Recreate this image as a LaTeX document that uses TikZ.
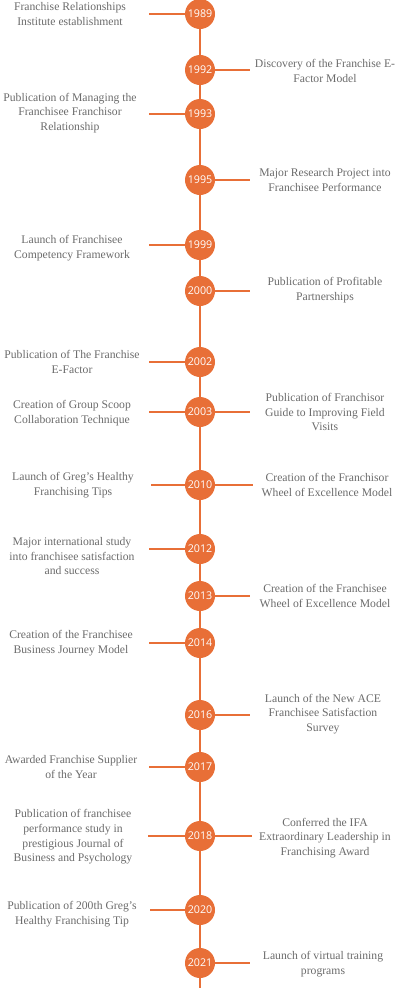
\documentclass[tikz,border=0pt]{standalone}
\usepackage{fontspec}
\setmainfont{Liberation Serif}
\newfontfamily\yearfont{Open Sans}
\definecolor{tlorange}{HTML}{E86F37}
\definecolor{tlgrey}{HTML}{6B6B6B}
\begin{document}
\begin{tikzpicture}[x=0.025cm, y=-0.025cm,
  year/.style={circle, fill=tlorange, text=white, minimum size=0.75cm, inner sep=0pt, font=\yearfont\fontsize{7.6pt}{9pt}\selectfont},
  event/.style={align=center, text=tlgrey, inner sep=0pt, font=\fontsize{8.3pt}{10.4pt}\selectfont},
  spine/.style={draw=tlorange, line width=2.1pt}]
\useasboundingbox (0,0) rectangle (400,1000);
% years on the spine
\node[year] (y1989) at (200,14) {1989};
\node[year] (y1992) at (200,70) {1992};
\node[year] (y1993) at (200,114) {1993};
\node[year] (y1995) at (200,180) {1995};
\node[year] (y1999) at (200,245) {1999};
\node[year] (y2000) at (200,291) {2000};
\node[year] (y2002) at (200,362) {2002};
\node[year] (y2003) at (200,412) {2003};
\node[year] (y2010) at (200,485) {2010};
\node[year] (y2012) at (200,549) {2012};
\node[year] (y2013) at (200,596) {2013};
\node[year] (y2014) at (200,643) {2014};
\node[year] (y2016) at (200,715) {2016};
\node[year] (y2017) at (200,767) {2017};
\node[year] (y2018) at (200,836) {2018};
\node[year] (y2020) at (200,910) {2020};
\node[year] (y2021) at (200,963) {2021};
\coordinate (bottom) at (200,988);
% ends of the branches
\coordinate (l1989) at (149,14);
\coordinate (r1992) at (250,70);
\coordinate (l1993) at (149,114);
\coordinate (r1995) at (250,180);
\coordinate (l1999) at (149,245);
\coordinate (r2000) at (250,291);
\coordinate (l2002) at (149,362);
\coordinate (l2003) at (149,412);
\coordinate (r2003) at (250,412);
\coordinate (l2010) at (151,485);
\coordinate (r2010) at (253,485);
\coordinate (l2012) at (149,549);
\coordinate (r2013) at (250,596);
\coordinate (l2014) at (149,643);
\coordinate (r2016) at (250,715);
\coordinate (l2017) at (149,767);
\coordinate (l2018) at (148,836);
\coordinate (r2018) at (252,836);
\coordinate (l2020) at (150,910);
\coordinate (r2021) at (250,963);
% events
\node[event] (e1989) at (70,14) {Franchise Relationships\\Institute establishment};
\node[event] (e1992) at (325,71) {Discovery of the Franchise E-\\Factor Model};
\node[event] (e1993) at (70,113) {Publication of Managing the\\Franchisee Franchisor\\Relationship};
\node[event] (e1995) at (325,180) {Major Research Project into\\Franchisee Performance};
\node[event] (e1999) at (72,248) {Launch of Franchisee\\Competency Framework};
\node[event] (e2000) at (325,290) {Publication of Profitable\\Partnerships};
\node[event] (e2002) at (72,362) {Publication of The Franchise\\E-Factor};
\node[event] (e2003a) at (72,413) {Creation of Group Scoop\\Collaboration Technique};
\node[event] (e2003b) at (325,412) {Publication of Franchisor\\Guide to Improving Field\\Visits};
\node[event] (e2010a) at (73,485) {Launch of Greg's Healthy\\Franchising Tips};
\node[event] (e2010b) at (327,485) {Creation of the Franchisor\\Wheel of Excellence Model};
\node[event] (e2012) at (72,556) {Major international study\\into franchisee satisfaction\\and success};
\node[event] (e2013) at (325,596) {Creation of the Franchisee\\Wheel of Excellence Model};
\node[event] (e2014) at (71,643) {Creation of the Franchisee\\Business Journey Model};
\node[event] (e2016) at (323,714) {Launch of the New ACE\\Franchisee Satisfaction\\Survey};
\node[event] (e2017) at (71,767) {Awarded Franchise Supplier\\of the Year};
\node[event] (e2018a) at (73,837) {Publication of franchisee\\performance study in\\prestigious Journal of\\Business and Psychology};
\node[event] (e2018b) at (325,838) {Conferred the IFA\\Extraordinary Leadership in\\Franchising Award};
\node[event] (e2020) at (72,914) {Publication of 200th Greg's\\Healthy Franchising Tip};
\node[event] (e2021) at (323,964) {Launch of virtual training\\programs};
% spine
\draw[spine] (y1989) -- (y1992);
\draw[spine] (y1992) -- (y1993);
\draw[spine] (y1993) -- (y1995);
\draw[spine] (y1995) -- (y1999);
\draw[spine] (y1999) -- (y2000);
\draw[spine] (y2000) -- (y2002);
\draw[spine] (y2002) -- (y2003);
\draw[spine] (y2003) -- (y2010);
\draw[spine] (y2010) -- (y2012);
\draw[spine] (y2012) -- (y2013);
\draw[spine] (y2013) -- (y2014);
\draw[spine] (y2014) -- (y2016);
\draw[spine] (y2016) -- (y2017);
\draw[spine] (y2017) -- (y2018);
\draw[spine] (y2018) -- (y2020);
\draw[spine] (y2020) -- (y2021);
\draw[spine] (y2021) -- (bottom);
% branches
\draw[spine] (y1989) -- (l1989);
\draw[spine] (y1992) -- (r1992);
\draw[spine] (y1993) -- (l1993);
\draw[spine] (y1995) -- (r1995);
\draw[spine] (y1999) -- (l1999);
\draw[spine] (y2000) -- (r2000);
\draw[spine] (y2002) -- (l2002);
\draw[spine] (y2003) -- (l2003);
\draw[spine] (y2003) -- (r2003);
\draw[spine] (y2010) -- (l2010);
\draw[spine] (y2010) -- (r2010);
\draw[spine] (y2012) -- (l2012);
\draw[spine] (y2013) -- (r2013);
\draw[spine] (y2014) -- (l2014);
\draw[spine] (y2016) -- (r2016);
\draw[spine] (y2017) -- (l2017);
\draw[spine] (y2018) -- (l2018);
\draw[spine] (y2018) -- (r2018);
\draw[spine] (y2020) -- (l2020);
\draw[spine] (y2021) -- (r2021);
\end{tikzpicture}
\end{document}
